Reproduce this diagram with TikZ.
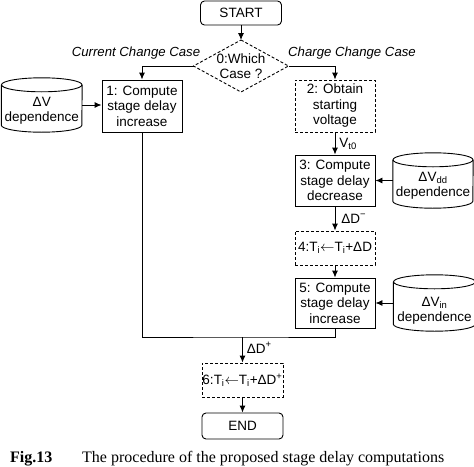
\documentclass[tikz,border=0pt]{standalone}
\usepackage{fontspec}
\setmainfont{Liberation Serif}
\setsansfont{Liberation Sans}
\usetikzlibrary{arrows.meta,calc}
\newcommand\cylout[3]{% name, rx, ry
  \draw[ln] ($(#1.north west)+(0,#3)$) -- ($(#1.south west)+(0,-#3)$)
    arc[start angle=180, end angle=0, x radius=#2, y radius=#3]
    -- ($(#1.north east)+(0,#3)$);
  \draw[ln] ($(#1.north)+(0,#3)$) ellipse [x radius=#2, y radius=#3];}
\begin{document}
\begin{tikzpicture}[x=1pt,y=-1pt,
 every node/.style={font=\sffamily\fontsize{13.5}{15.5}\selectfont, align=center, inner sep=0pt},
 ln/.style={line width=0.9pt},
 box/.style={draw, line width=0.9pt, minimum width=80pt},
 dbox/.style={box, dash pattern=on 3pt off 2pt},
 term/.style={draw, line width=0.9pt, rounded corners=4pt, minimum width=81pt},
 arr/.style={-{Latex[length=7pt,width=6pt]}, line width=0.9pt},
 lab/.style={font=\sffamily\itshape\fontsize{13.2}{15}\selectfont},
 captext/.style={anchor=base west, font=\rmfamily\fontsize{16}{18}\selectfont}]
\useasboundingbox (0,0) rectangle (474,466);
% terminals
\node[term, minimum height=24pt] (start) at (241,13) {START};
\node[term, minimum height=26pt] (end) at (242.5,426) {END};
% decision
\node (dec) at (241,66) {0:Which\\Case ?};
\coordinate (dT) at (241,40);
\coordinate (dB) at (241,92);
\coordinate (dL) at (193.5,66);
\coordinate (dR) at (288.5,66);
\draw[ln, dash pattern=on 3pt off 2pt] (dT) -- (dR) -- (dB) -- (dL) -- cycle;
\node[lab] (lcur) at (136,53) {Current Change Case};
\node[lab] (lchg) at (352,53) {Charge Change Case};
% boxes
\node[box, minimum height=52pt] (b1) at (142,106) {1: Compute\\stage delay\\increase};
\node[dbox, minimum height=52pt] (b2) at (335,106) {2: Obtain\\starting\\voltage};
\node[box, minimum height=51pt] (b3) at (335,180.5) {3: Compute\\stage delay\\decrease};
\node[dbox, minimum height=34pt] (b4) at (335,248) {4:T\textsubscript{i}$\leftarrow$T\textsubscript{i}+ΔD};
\node[box, minimum height=50pt] (b5) at (335,303) {5: Compute\\stage delay\\increase};
\node[dbox, minimum height=34pt, minimum width=81pt] (b6) at (242.5,380) {6:T\textsubscript{i}$\leftarrow$T\textsubscript{i}+ΔD\textsuperscript{+}};
% cylinders
\node[minimum width=80.5pt, minimum height=54pt] (c1) at (41.75,105) {};
\cylout{c1}{40.25}{7}
\node (c1t) at (41.75,111) {ΔV\\dependence};
\node[minimum width=80pt, minimum height=55pt] (c2) at (433,180.5) {};
\cylout{c2}{40}{7}
\node (c2t) at (433,186) {ΔV\textsubscript{dd}\\dependence};
\node[minimum width=82pt, minimum height=56pt] (c3) at (434.5,303) {};
\cylout{c3}{41}{7}
\node (c3t) at (434.5,311) {ΔV\textsubscript{in}\\dependence};
% connectors
\draw[arr] (start) -- (dT);
\draw[arr] (dL) -| (b1.north);
\draw[arr] (dR) -| (b2.north);
\draw[arr] (b2) -- node[anchor=west, xshift=4pt] (lvt) {V\textsubscript{t0}} (b3);
\draw[arr] (b3) -- node[anchor=west, xshift=6pt] (ldm) {ΔD\textsuperscript{−}} (b4);
\draw[arr] (b4) -- (b5);
\draw[arr] (c1.east) -- (c1.east -| b1.west);
\draw[arr] (c2.west) -- (c2.west -| b3.east);
\draw[arr] (c3.west) -- (c3.west -| b5.east);
\coordinate (m) at (242.5,337);
\draw[ln] (b1.south) |- (m) -| (b5.south);
\draw[arr] (m) -- node[anchor=west, xshift=4pt, yshift=2pt] (ldp) {ΔD\textsuperscript{+}} (b6);
\draw[arr] (b6) -- (end);
% caption
\node[captext] (cap1) at (10,462) {\textbf{Fig.13}};
\node[captext] (cap2) at (82,462) {The procedure of the proposed stage delay computations};
\end{tikzpicture}
\end{document}
